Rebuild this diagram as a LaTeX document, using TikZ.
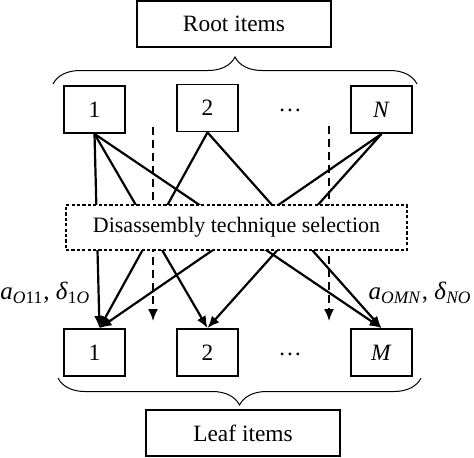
\documentclass[tikz,border=0pt]{standalone}
\usepackage{fontspec}
\setmainfont{Liberation Serif}
\usetikzlibrary{arrows.meta,decorations.pathreplacing}

\begin{document}
\begin{tikzpicture}[x=0.5pt,y=-0.5pt,
    font=\fontsize{11.7}{14}\selectfont,
    item/.style={draw,line width=0.9pt,minimum width=30.5pt,minimum height=23.5pt,inner sep=0pt},
    group/.style={draw,line width=0.9pt,minimum width=97pt,minimum height=23pt,inner sep=0pt},
    conn/.style={line width=1.1pt,-{Latex[length=6pt,width=5pt]}},
    guide/.style={line width=0.9pt,dash pattern=on 4pt off 2.5pt,-{Latex[length=6pt,width=5pt]}},
    curly/.style={decorate,decoration={brace,amplitude=13.5pt},line width=0.5pt},
    param/.style={inner sep=0pt,font=\fontsize{12.5}{15}\selectfont}]
  \useasboundingbox (0,0) rectangle (474,457);

  % Groups of items
  \node[group] (root) at (234,24) {Root items};
  \node[group] (leaf) at (243,433) {Leaf items};

  % Braces
  \draw[curly] (53,84) -- (417,84);
  \draw[curly] (421,378) -- (58,378);

  % Root items (top row) and leaf items (bottom row)
  \foreach \n/\lab/\x/\y in {1/1/94.5/109.5, 2/2/207.5/108, N/\textit{N}/381.5/109.5}
    \node[item] (r\n) at (\x,\y) {\lab};
  \foreach \n/\lab/\x in {1/1/94.5, 2/2/207.5, M/\textit{M}/381.5}
    \node[item] (l\n) at (\x,352.5) {\lab};
  \node (rdots) at (290,110) {\dots};
  \node (ldots) at (290,354) {\dots};

  % Arrow targets on the leaf items
  \coordinate (t1) at ([xshift=2.5pt]l1.north);
  \coordinate (t2) at (l2.north);
  \coordinate (tM) at (lM.north);

  % Connections from root items to leaf items
  \foreach \s/\t in {1/1, 1/2, 1/M, 2/1, 2/M, N/1, N/2}
    \draw[conn] (r\s.south) -- (t\t);

  % Dashed guide arrows
  \coordinate (g1a) at (153,127);
  \coordinate (g1b) at (153,321);
  \coordinate (g2a) at (329,126);
  \coordinate (g2b) at (329,321);
  \draw[guide] (g1a) -- (g1b);
  \draw[guide] (g2a) -- (g2b);

  % Selection step, drawn over the connections
  \node[draw,fill=white,line width=0.7pt,dash pattern=on 1.6pt off 1.1pt,
        minimum width=170.5pt,minimum height=22.5pt,font=\fontsize{11}{13}\selectfont]
        (select) at (236.5,227.5) {Disassembly technique selection};

  % Parameter labels
  \node[param,anchor=west] (par1) at (0,293)
        {\textit{a}\textsubscript{\textit{O}11}, \textit{δ}\textsubscript{1\textit{O}}};
  \node[param,anchor=east] (parM) at (472,293)
        {\textit{a}\textsubscript{\textit{OMN}}, \textit{δ}\textsubscript{\textit{NO}}};
\end{tikzpicture}
\end{document}
